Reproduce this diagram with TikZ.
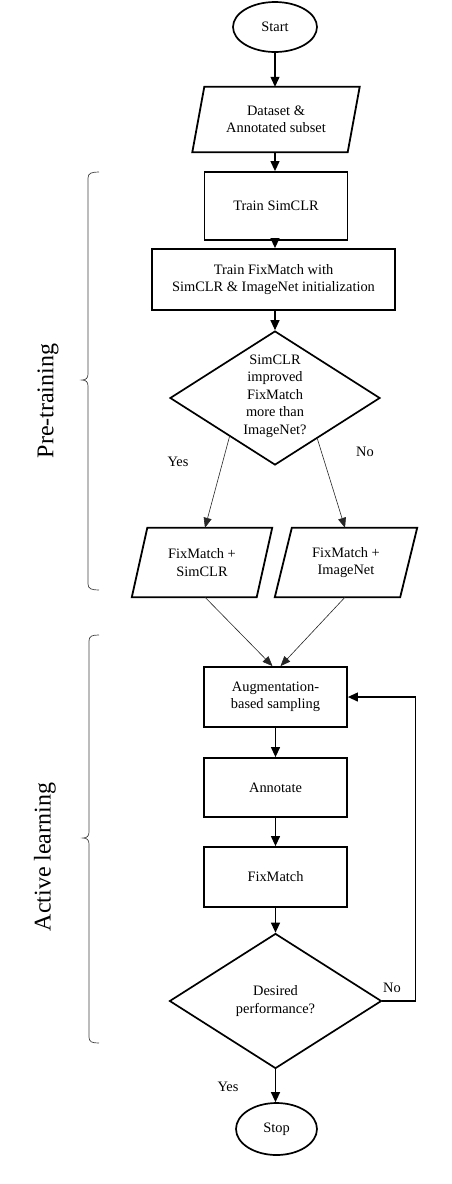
\documentclass[tikz,border=0pt]{standalone}
\usepackage{fontspec}
\setmainfont{Liberation Serif}
\usetikzlibrary{shapes.geometric,arrows.meta,calc}
\begin{document}
\begin{tikzpicture}[x=1pt,y=-1pt,
  every node/.style={font=\fontsize{14.4}{17.5}\selectfont, align=center, inner sep=0pt},
  boxnode/.style={draw, line width=1.8pt, rectangle, minimum width=#1},
  paranode/.style={rectangle, minimum width=#1},
  term/.style={draw, line width=1.7pt, ellipse, inner sep=0pt},
  decnode/.style={draw, line width=1.7pt, diamond, inner sep=0pt},
  outline/.style={line width=1.8pt, line join=miter},
  mainarrow/.style={line width=1.2pt, -{Triangle[length=10pt,width=9pt]}},
  thinarrow/.style={line width=0.6pt, black!85, -{Triangle[length=10pt,width=8pt]}},
  bracepath/.style={line width=0.7pt, black!75},
  sidelabel/.style={font=\fontsize{24}{28}\selectfont, rotate=90},
  edgelabel/.style={font=\fontsize{14.4}{17.5}\selectfont}
]
\useasboundingbox (0,0) rectangle (452,1184);

% Start
\node[term, minimum width=84pt, minimum height=50pt] (start) at (275,27) {Start};

% Dataset parallelogram
\node[paranode=155pt, minimum height=65pt] (p1) at (276,119.5) {Dataset \&\\Annotated subset};
\draw[outline] ([xshift=6pt]p1.north west) -- ([xshift=6pt]p1.north east)
  -- ([xshift=-6pt]p1.south east) -- ([xshift=-6pt]p1.south west) -- cycle;

% Train SimCLR
\node[boxnode=143pt, minimum height=68pt] (ts) at (276,206) {Train SimCLR};
% Train FixMatch
\node[boxnode=243pt, minimum height=61pt] (tf) at (273.5,279.5) {Train FixMatch with\\SimCLR \& ImageNet initialization};

% Decision 1
\node[decnode, minimum width=210pt, minimum height=134pt] (d1) at (275,398) {};
\node (d1t) at (275,396) {SimCLR\\improved\\FixMatch\\more than\\ImageNet?};

% Outcomes
\node[paranode=124.5pt, minimum height=69pt] (p2) at (202,562.5) {FixMatch +\\SimCLR};
\draw[outline] ([xshift=7.75pt]p2.north west) -- ([xshift=7.75pt]p2.north east)
  -- ([xshift=-7.75pt]p2.south east) -- ([xshift=-7.75pt]p2.south west) -- cycle;
\node[paranode=125pt, minimum height=69pt] (p3) at (346,562.5) {FixMatch +\\ImageNet};
\draw[outline] ([xshift=8.5pt]p3.north west) -- ([xshift=8.5pt]p3.north east)
  -- ([xshift=-8.5pt]p3.south east) -- ([xshift=-8.5pt]p3.south west) -- cycle;

% Active learning boxes
\node[boxnode=143pt, minimum height=60pt] (aug) at (275.5,697) {Augmentation-\\based sampling};
\node[boxnode=143pt, minimum height=59pt] (ann) at (275.5,787.5) {Annotate};
\node[boxnode=143pt, minimum height=60pt] (fm) at (275.5,877) {FixMatch};

% Decision 2
\node[decnode, minimum width=212pt, minimum height=135pt] (d2) at (275.5,1001) {};
\node (d2t) at (275.5,1001) {Desired\\performance?};

% Stop
\node[term, minimum width=81pt, minimum height=52pt] (stop) at (276.5,1129) {Stop};

% Labels
\node[edgelabel] (yes1) at (178,462) {Yes};
\node[edgelabel] (no1) at (365,452) {No};
\node[edgelabel] (no2) at (392,988) {No};
\node[edgelabel] (yes2) at (228,1087) {Yes};

% Main arrows
\draw[mainarrow] (start.south) -- (start.south |- p1.north);
\draw[mainarrow] (start.south |- p1.south) -- (start.south |- ts.north);
\draw[mainarrow] (start.south |- ts.south) -- (start.south |- tf.north);
\draw[mainarrow] (start.south |- tf.south) -- (d1.north);
\draw[mainarrow] (aug.south) -- (ann.north);
\draw[mainarrow] (ann.south) -- (fm.north);
\draw[mainarrow] (fm.south) -- (fm.south |- d2.north);
\draw[mainarrow] (d2.south) -- (d2.south |- stop.north);

% Decision 1 branches
\coordinate (d1y) at ($(d1.west)!0.57!(d1.south)$);
\coordinate (d1n) at ($(d1.east)!0.60!(d1.south)$);
\draw[thinarrow] (d1y) -- ([xshift=3pt]p2.north);
\draw[thinarrow] (d1n) -- ([xshift=-1pt]p3.north);

% Merge into augmentation
\draw[thinarrow] ([xshift=3pt]p2.south) -- ([xshift=-3pt]aug.north);
\draw[thinarrow] ([xshift=-1pt]p3.south) -- ([xshift=5pt]aug.north);

% Loop back
\draw[line width=1.2pt, -{Triangle[length=10pt,width=9pt]}] (d2.east) -- ++(33,0) |- (aug.east);

% Braces
\draw[bracepath] (99,172) .. controls (92,172) and (88,173) .. (88,178) -- (88,374)
  .. controls (88,378) and (86,380) .. (82,380) .. controls (86,380) and (88,382) .. (88,386)
  -- (88,584) .. controls (88,589) and (92,590) .. (99,590);
\draw[bracepath] (99,635) .. controls (92,635) and (89,636) .. (89,641) -- (89,832)
  .. controls (89,836) and (87,838) .. (83,838) .. controls (87,838) and (89,840) .. (89,844)
  -- (89,1037) .. controls (89,1042) and (92,1043) .. (99,1043);

\node[sidelabel] (pre) at (48,401) {Pre-training};
\node[sidelabel] (act) at (45,857) {Active learning};
\end{tikzpicture}
\end{document}
